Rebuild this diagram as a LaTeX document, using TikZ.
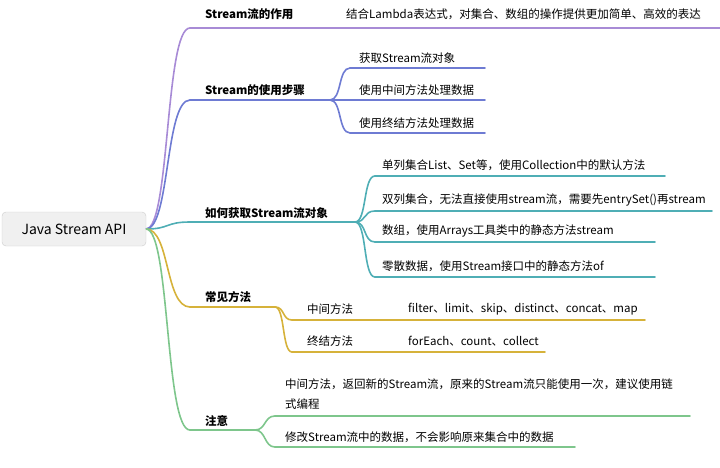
\documentclass[tikz,border=0pt]{standalone}
\usepackage{fontspec}
\setmainfont{Noto Sans CJK SC}
\begin{document}
\begin{tikzpicture}[x=1pt,y=-1pt,
  lab/.style={anchor=west,inner sep=0pt,font=\fontsize{11.5}{13}\selectfont},
  blab/.style={lab,font=\fontsize{11.5}{13}\selectfont\bfseries},
  br/.style={line width=1.6pt,line cap=round},
  cv/.style={line width=1.6pt}]
\useasboundingbox (0,0) rectangle (720,468);
\definecolor{cpur}{HTML}{A88BD6}
\definecolor{cblu}{HTML}{6E7BD3}
\definecolor{ctea}{HTML}{4FAEB5}
\definecolor{cgol}{HTML}{D6B23A}
\definecolor{cgre}{HTML}{7EC68C}
\node[draw=gray!40,fill=gray!12,rounded corners=4pt,minimum width=144pt,minimum height=34pt,inner sep=0pt,font=\fontsize{14}{16}\selectfont] (root) at (74,229) {Java Stream API};
\coordinate (r) at (146,229);
% purple
\coordinate (p0) at (190,28); \coordinate (p1) at (720,28);
\draw[cpur,cv] (r) .. controls (170,229) and (165,28) .. (p0);
\draw[cpur,br] (p0) -- (p1);
\node[blab] (pa) at (205,14) {Stream流的作用};
\node[lab] (pb) at (346,14) {结合Lambda表达式，对集合、数组的操作提供更加简单、高效的表达};
% blue
\coordinate (b0) at (190,100); \coordinate (b1) at (330,100);
\draw[cblu,cv] (r) .. controls (170,229) and (165,100) .. (b0);
\draw[cblu,br] (b0) -- (b1);
\node[blab] (ba) at (205,90) {Stream的使用步骤};
\foreach \y/\t/\e [count=\i] in {68/获取Stream流对象/485,100/使用中间方法处理数据/485,133/使用终结方法处理数据/485}{
  \coordinate (bs\i) at (350,\y);
  \draw[cblu,cv] (b1) .. controls (342,100) and (338,\y) .. (bs\i);
  \draw[cblu,br] (bs\i) -- (\e,\y);
  \node[lab] (bt\i) at (359,\y-10) {\t};
}
% teal
\coordinate (t0) at (190,222); \coordinate (t1) at (355,222);
\draw[ctea,cv] (r) .. controls (170,229) and (165,222) .. (t0);
\draw[ctea,br] (t0) -- (t1);
\node[blab] (ta) at (205,213) {如何获取Stream流对象};
\foreach \y/\t/\e [count=\i] in {176/单列集合List、Set等，使用Collection中的默认方法/665,211/双列集合，无法直接使用stream流，需要先entrySet()再stream/712,242/数组，使用Arrays工具类中的静态方法stream/655,277/零散数据，使用Stream接口中的静态方法of/655}{
  \coordinate (ts\i) at (375,\y);
  \draw[ctea,cv] (t1) .. controls (367,222) and (363,\y) .. (ts\i);
  \draw[ctea,br] (ts\i) -- (\e,\y);
  \node[lab] (tt\i) at (382,\y-11) {\t};
}
% gold
\coordinate (g0) at (190,307); \coordinate (g1) at (275,307);
\draw[cgol,cv] (r) .. controls (170,229) and (165,307) .. (g0);
\draw[cgol,br] (g0) -- (g1);
\node[blab] (ga) at (205,297) {常见方法};
\foreach \y/\a/\t/\e [count=\i] in {320/中间方法/{filter、limit、skip、distinct、concat、map}/645,352/终结方法/{forEach、count、collect}/545}{
  \coordinate (gs\i) at (292,\y);
  \draw[cgol,cv] (g1) .. controls (285,307) and (282,\y) .. (gs\i);
  \draw[cgol,br] (gs\i) -- (\e,\y);
  \node[lab] (gn\i) at (307,\y-11) {\a};
  \node[lab] (gt\i) at (408,\y-11) {\t};
}
% green
\coordinate (e0) at (190,430); \coordinate (e1) at (255,430);
\draw[cgre,cv] (r) .. controls (170,229) and (165,430) .. (e0);
\draw[cgre,br] (e0) -- (e1);
\node[blab] (ea) at (205,421) {注意};
\coordinate (es1) at (275,416); \coordinate (es2) at (275,447);
\draw[cgre,cv] (e1) .. controls (266,430) and (264,416) .. (es1);
\draw[cgre,cv] (e1) .. controls (266,430) and (264,447) .. (es2);
\draw[cgre,br] (es1) -- (690,416);
\draw[cgre,br] (es2) -- (575,447);
\node[lab] (et1) at (285,384) {中间方法，返回新的Stream流，原来的Stream流只能使用一次，建议使用链};
\node[lab] (et1b) at (285,404) {式编程};
\node[lab] (et2) at (285,437) {修改Stream流中的数据，不会影响原来集合中的数据};
\end{tikzpicture}
\end{document}
